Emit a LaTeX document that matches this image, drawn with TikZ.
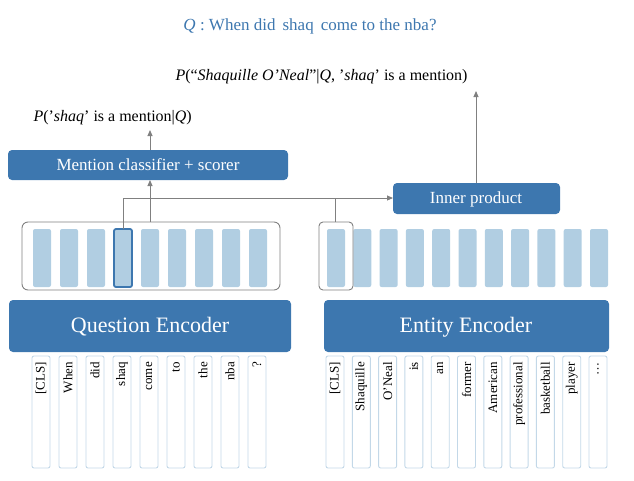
\documentclass[tikz,border=0pt]{standalone}
\usepackage{fontspec}
\setmainfont{Liberation Serif}
\usetikzlibrary{arrows.meta}
\definecolor{dblue}{HTML}{3D77AF}
\definecolor{lblue}{HTML}{B1CEE2}
\definecolor{oblue}{HTML}{C3D8E8}
\definecolor{gline}{HTML}{808080}
\tikzset{
 bluebox/.style={fill=dblue,rounded corners=4pt,text=white,inner sep=0pt},
 tok/.style={fill=lblue,rounded corners=2pt,draw=none},
 inbox/.style={draw=oblue,line width=0.9pt,rounded corners=2pt},
 conn/.style={draw=gline,line width=0.9pt},
 arr/.style={conn,-{Triangle[length=6pt,width=5pt]}},
 outline/.style={draw=gline,line width=0.9pt,rounded corners=6pt},
}
\begin{document}
\begin{tikzpicture}[x=1pt,y=-1pt]
\useasboundingbox (0,0) rectangle (634,480);
\node[text=dblue,font=\fontsize{17}{20}\selectfont] (title) at (310,26) {\textit{Q} : When did\, shaq\, come to the nba?};
\node[font=\fontsize{16}{19}\selectfont,anchor=west] (p2) at (172,77) {\textit{P}(``\textit{Shaquille O'Neal}''|\textit{Q}, '\textit{shaq}' is a mention)};
\node[font=\fontsize{16}{19}\selectfont,anchor=west] (p1) at (30,118) {\textit{P}('\textit{shaq}' is a mention|\textit{Q})};
% mention box
\path[bluebox] (8,150) rectangle (288,180);
\node[text=white,font=\fontsize{17}{20}\selectfont] (mc) at (148,165) {Mention classifier + scorer};
\coordinate (mcb) at (150,180);
\coordinate (mct) at (150,150);
\path[bluebox] (393,183) rectangle (560,214);
\node[text=white,font=\fontsize{17}{20}\selectfont] (ip) at (476,199) {Inner product};
% question vectors
\draw[outline] (22,222) rectangle (280,290);
\coordinate (qtop) at (150,222);
\foreach \i in {0,1,2,3,4,5,6,7,8}{\path[tok] (33+27*\i,229) rectangle (51+27*\i,287);}
\draw[draw=dblue,line width=1.8pt,fill=lblue,rounded corners=2pt] (114,229) rectangle (132,287);
\coordinate (shaq) at (123,229);
% entity vectors
\foreach \i in {0,1,2,3,4,5,6,7,8,9,10}{\path[tok] (327+26.3*\i,229) rectangle (345+26.3*\i,287);}
\draw[outline,rounded corners=4pt] (319,222) rectangle (353,290);
\coordinate (cls) at (335,222);
% connectors
\draw[arr] (qtop) -- (mcb);
\draw[arr] (mct) -- (150,130);
\draw[conn] (shaq) -- (123,198);
\draw[arr] (123,198) -- (393,198);
\draw[conn] (cls) -- (335,198);
\draw[arr] (476,183) -- (476,91);
% encoders
\path[bluebox] (9,300) rectangle (291,352);
\node[text=white,font=\fontsize{22}{26}\selectfont] (qe) at (150,327) {Question Encoder};
\path[bluebox] (324,300) rectangle (609,352);
\node[text=white,font=\fontsize{22}{26}\selectfont] (ee) at (466,327) {Entity Encoder};
% input tokens
\foreach \w [count=\i from 0] in {{[CLS]},When,did,shaq,come,to,the,nba,?}{
 \draw[inbox] (32+27*\i,356) rectangle (50+27*\i,468);
 \node[rotate=90,anchor=east,font=\fontsize{13}{15}\selectfont,inner sep=0pt] at (41+27*\i,362) {\w};}
\foreach \w [count=\i from 0] in {{[CLS]},Shaquille,O'Neal,is,an,former,American,professional,basketball,player,{\dots}}{
 \draw[inbox] (326+26.3*\i,356) rectangle (344+26.3*\i,468);
 \node[rotate=90,anchor=east,font=\fontsize{13}{15}\selectfont,inner sep=0pt] at (335+26.3*\i,362) {\w};}
\end{tikzpicture}
\end{document}
